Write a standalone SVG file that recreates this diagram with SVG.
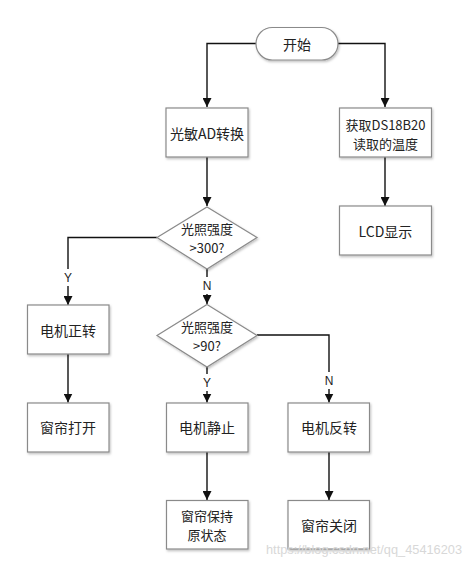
<svg xmlns="http://www.w3.org/2000/svg" width="474" height="563" viewBox="0 0 474 563">
<defs>
<marker id="ah" viewBox="0 0 10 10" refX="10" refY="5" markerWidth="9" markerHeight="9" markerUnits="userSpaceOnUse" orient="auto">
<path d="M0,0 L10,5 L0,10 Z" fill="#111"/>
</marker>
<filter id="sh" x="-10%" y="-10%" width="130%" height="130%">
<feDropShadow dx="1" dy="1.5" stdDeviation="0.8" flood-color="#000" flood-opacity="0.25"/>
</filter>
</defs>
<style>
.box{fill:#fff;stroke:#8a8a8a;stroke-width:1.2;filter:url(#sh)}
.t{font-family:"Noto Sans CJK SC","Liberation Sans",sans-serif;font-size:14px;fill:#222;text-anchor:middle;dominant-baseline:central}
.t2{font-size:13px}
.lbl{font-family:"Liberation Sans","Noto Sans CJK SC",sans-serif;font-size:12px;fill:#222;text-anchor:middle;dominant-baseline:central}
.c{fill:none;stroke:#111;stroke-width:1.4}
.wm{font-family:"Liberation Sans",sans-serif;font-size:13px;fill:#d8d8d8}
</style>
<rect width="474" height="563" fill="#fff"/>
<g id="connectors">
<path class="c" d="M256,43.5 H207 V107" marker-end="url(#ah)"/>
<path class="c" d="M338,43.5 H385 V107" marker-end="url(#ah)"/>
<path class="c" d="M207,157 V206" marker-end="url(#ah)"/>
<path class="c" d="M385,157 V206" marker-end="url(#ah)"/>
<path class="c" d="M157,237.5 H68 V269 M68,286 V305" marker-end="url(#ah)"/>
<path class="c" d="M207,269 V277 M207,294 V304" marker-end="url(#ah)"/>
<path class="c" d="M68,354 V402.5" marker-end="url(#ah)"/>
<path class="c" d="M207,367 V374 M207,391 V402.5" marker-end="url(#ah)"/>
<path class="c" d="M257,335 H329 V372 M329,389 V402.5" marker-end="url(#ah)"/>
<path class="c" d="M207,452 V500" marker-end="url(#ah)"/>
<path class="c" d="M329,452 V500" marker-end="url(#ah)"/>
<text class="lbl" x="68" y="277.5">Y</text>
<text class="lbl" x="207" y="285.5">N</text>
<text class="lbl" x="207" y="383">Y</text>
<text class="lbl" x="329" y="381">N</text>
</g>
<g id="start">
<rect class="box" x="256" y="27.5" width="82" height="32.5" rx="16.25" ry="16.25"/>
<text class="t" x="297" y="43.5">开始</text>
</g>
<g id="ad">
<rect class="box" x="166" y="108" width="82" height="49"/>
<text class="t" x="207" y="132.5">光敏AD转换</text>
</g>
<g id="ds18b20">
<rect class="box" x="339.5" y="108" width="92" height="49"/>
<text class="t t2" x="385.5" y="124">获取DS18B20</text>
<text class="t t2" x="385.5" y="143">读取的温度</text>
</g>
<g id="lcd">
<rect class="box" x="339.5" y="206" width="92" height="49"/>
<text class="t" x="385.5" y="230.5">LCD显示</text>
</g>
<g id="d1">
<polygon class="box" points="207,207 257,237.5 207,269 157,237.5"/>
<text class="t t2" x="207" y="228.5">光照强度</text>
<text class="t t2" x="207" y="247">&gt;300?</text>
</g>
<g id="d2">
<polygon class="box" points="207,304.5 257,335.5 207,367 157,335.5"/>
<text class="t t2" x="207" y="326.5">光照强度</text>
<text class="t t2" x="207" y="345">&gt;90?</text>
</g>
<g id="motor-fwd">
<rect class="box" x="27.5" y="305" width="81.5" height="49"/>
<text class="t" x="68" y="329.5">电机正转</text>
</g>
<g id="open">
<rect class="box" x="27.5" y="403" width="81.5" height="49"/>
<text class="t" x="68" y="427">窗帘打开</text>
</g>
<g id="motor-stop">
<rect class="box" x="166.5" y="403" width="81.5" height="49"/>
<text class="t" x="207" y="427">电机静止</text>
</g>
<g id="motor-rev">
<rect class="box" x="288" y="403" width="81.5" height="49"/>
<text class="t" x="329" y="427">电机反转</text>
</g>
<g id="keep">
<rect class="box" x="166.5" y="500.5" width="81.5" height="48.5"/>
<text class="t t2" x="207" y="515">窗帘保持</text>
<text class="t t2" x="207" y="534">原状态</text>
</g>
<g id="close">
<rect class="box" x="288" y="500.5" width="81.5" height="48.5"/>
<text class="t" x="329" y="525">窗帘关闭</text>
</g>
<text class="wm" x="266" y="554" textLength="196" lengthAdjust="spacingAndGlyphs">https://blog.csdn.net/qq_45416203</text>
</svg>
